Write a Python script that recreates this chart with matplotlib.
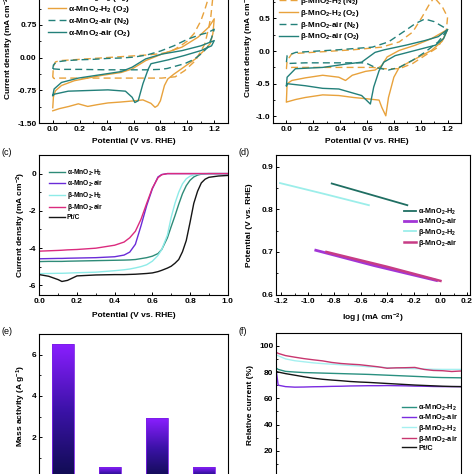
import numpy as np
import matplotlib
matplotlib.use('Agg')
import matplotlib.pyplot as plt
from matplotlib.ticker import MultipleLocator, FormatStrFormatter
from matplotlib.colors import LinearSegmentedColormap

plt.rcParams.update({
    'font.family': 'Liberation Sans',
    'font.weight': 'bold',
    'font.size': 6,
    'axes.labelweight': 'bold',
    'axes.unicode_minus': False,
    'mathtext.fontset': 'custom',
    'mathtext.rm': 'Liberation Sans:bold',
    'mathtext.it': 'Liberation Sans:bold',
    'mathtext.bf': 'Liberation Sans:bold',
    'mathtext.default': 'rm',
    'axes.linewidth': 0.8,
    'xtick.direction': 'in', 'ytick.direction': 'in',
    'xtick.major.size': 2.5, 'ytick.major.size': 2.5,
    'xtick.minor.size': 1.4, 'ytick.minor.size': 1.4,
    'xtick.major.width': 0.7, 'ytick.major.width': 0.7,
    'xtick.minor.width': 0.6, 'ytick.minor.width': 0.6,
    'xtick.major.pad': 2.5, 'ytick.major.pad': 2.0,
})

# ---------------- data ----------------
ORANGE = '#E8A23C'
TEAL = '#23807A'

# (a) CV alpha-MnO2
a_H2_N2_V = [0.0, 0.005, 0.02, 0.05, 0.1, 0.2, 0.3, 0.4, 0.5, 0.6, 0.7, 0.8, 0.85, 0.9, 0.95, 1.0, 1.05, 1.1, 1.13, 1.16, 1.2,
             1.19, 1.175, 1.16, 1.13, 1.06, 0.98, 0.91, 0.81, 0.6, 0.4, 0.2, 0.05, 0.01, 0.0]
a_H2_N2_j = [-0.45, -0.2, -0.1, -0.07, -0.06, -0.04, -0.02, 0.0, 0.02, 0.04, 0.06, 0.09, 0.12, 0.18, 0.27, 0.38, 0.55, 0.84, 1.1, 1.4, 2.1,
             1.4, 0.95, 0.7, 0.31, -0.07, -0.3, -0.44, -0.47, -0.47, -0.47, -0.47, -0.47, -0.48, -0.45]
a_H2_O2_V = [0.0, 0.005, 0.02, 0.065, 0.16, 0.36, 0.51, 0.59, 0.69, 0.81, 0.96, 1.08, 1.16, 1.2,
             1.19, 1.17, 1.13, 1.06, 0.96, 0.9, 0.855, 0.83, 0.8, 0.78, 0.76, 0.73, 0.67, 0.61, 0.5, 0.41, 0.33, 0.26, 0.19, 0.12, 0.05, 0.0]
a_H2_O2_j = [-1.15, -0.9, -0.76, -0.64, -0.53, -0.41, -0.34, -0.26, -0.07, 0.08, 0.24, 0.47, 0.7, 0.89,
             0.55, 0.32, 0.18, -0.03, -0.25, -0.38, -0.49, -0.64, -0.99, -1.1, -1.14, -1.05, -0.97, -0.99, -1.02, -1.04, -1.08, -1.12, -1.06, -1.12, -1.17, -1.22]
a_air_N2_V = [0.0, 0.005, 0.02, 0.05, 0.1, 0.2, 0.3, 0.4, 0.5, 0.6, 0.7, 0.8, 0.9, 1.0, 1.1, 1.15, 1.2,
              1.18, 1.15, 1.1, 1.05, 0.98, 0.92, 0.85, 0.8, 0.7, 0.6, 0.4, 0.2, 0.05, 0.01, 0.0]
a_air_N2_j = [-0.26, -0.17, -0.12, -0.09, -0.07, -0.05, -0.04, -0.02, -0.01, 0.01, 0.06, 0.15, 0.27, 0.42, 0.53, 0.57, 0.65,
              0.45, 0.23, 0.08, -0.04, -0.14, -0.19, -0.25, -0.27, -0.28, -0.28, -0.28, -0.27, -0.27, -0.26, -0.26]
a_air_O2_V = [0.0, 0.01, 0.065, 0.19, 0.36, 0.51, 0.59, 0.69, 0.81, 0.96, 1.1, 1.2,
              1.18, 1.1, 0.98, 0.86, 0.73, 0.71, 0.67, 0.635, 0.61, 0.59, 0.54, 0.41, 0.115, 0.01, 0.0]
a_air_O2_j = [-0.87, -0.72, -0.57, -0.47, -0.39, -0.32, -0.22, -0.03, 0.08, 0.16, 0.27, 0.39,
              0.27, 0.16, 0.05, -0.05, -0.14, -0.26, -0.6, -0.99, -1.03, -0.91, -0.77, -0.74, -0.77, -0.84, -0.87]

# (b) CV beta-MnO2
b_H2_N2_V = [0.0, 0.005, 0.04, 0.27, 0.5, 0.71, 0.84, 0.94, 1.01, 1.06, 1.1, 1.16, 1.2,
             1.19, 1.13, 1.03, 0.94, 0.84, 0.73, 0.64, 0.5, 0.27, 0.04, 0.0]
b_H2_N2_j = [-0.27, -0.15, -0.04, -0.01, 0.02, 0.06, 0.14, 0.29, 0.52, 0.7, 0.82, 0.68, 0.52,
             0.3, 0.06, -0.07, -0.19, -0.27, -0.27, -0.25, -0.25, -0.25, -0.25, -0.27]
b_H2_O2_V = [0.0, 0.005, 0.04, 0.14, 0.27, 0.39, 0.44, 0.49, 0.59, 0.66, 0.71, 0.75, 0.84, 0.96, 1.08, 1.2,
             1.16, 1.08, 0.96, 0.84, 0.8, 0.76, 0.74, 0.71, 0.69, 0.6, 0.5, 0.39, 0.27, 0.14, 0.07, 0.0]
b_H2_O2_j = [-0.76, -0.5, -0.45, -0.41, -0.37, -0.4, -0.45, -0.37, -0.31, -0.29, -0.22, -0.09, 0.01, 0.09, 0.19, 0.33,
             0.15, 0.01, -0.12, -0.25, -0.4, -0.71, -0.99, -0.86, -0.75, -0.73, -0.71, -0.68, -0.67, -0.71, -0.74, -0.78]
b_air_N2_V = [0.0, 0.005, 0.07, 0.39, 0.64, 0.76, 0.89, 0.96, 1.03, 1.1, 1.2,
              1.13, 1.03, 0.94, 0.84, 0.76, 0.66, 0.59, 0.39, 0.14, 0.01, 0.0]
b_air_N2_j = [-0.17, -0.07, -0.02, 0.02, 0.06, 0.14, 0.32, 0.42, 0.49, 0.45, 0.33,
              0.14, -0.02, -0.14, -0.25, -0.29, -0.25, -0.18, -0.18, -0.18, -0.19, -0.17]
b_air_O2_V = [0.0, 0.005, 0.067, 0.27, 0.44, 0.56, 0.66, 0.73, 0.89, 1.03, 1.13, 1.2,
              1.17, 1.11, 0.96, 0.81, 0.725, 0.69, 0.65, 0.625, 0.6, 0.56, 0.39, 0.27, 0.14, 0.01, 0.0]
b_air_O2_j = [-0.53, -0.4, -0.27, -0.25, -0.2, -0.17, -0.02, 0.02, 0.09, 0.16, 0.22, 0.33,
              0.19, 0.09, 0.01, -0.07, -0.17, -0.3, -0.55, -0.81, -0.76, -0.68, -0.58, -0.57, -0.53, -0.5, -0.53]

# (c) LSV
c_V = [0.0, 0.05, 0.1, 0.12, 0.15, 0.2, 0.3, 0.4, 0.45, 0.48, 0.51, 0.54, 0.57, 0.6, 0.63, 0.65, 0.68, 0.7,
       0.72, 0.74, 0.76, 0.78, 0.8, 0.82, 0.84, 0.86, 0.88, 0.9, 0.95, 1.0]
c_aH2 = [-4.73, -4.72, -4.72, -4.72, -4.71, -4.7, -4.68, -4.66, -4.65, -4.64, -4.62, -4.57, -4.52, -4.44, -4.3, -4.08, -3.45, -2.85,
         -2.27, -1.65, -1.08, -0.65, -0.36, -0.18, -0.08, -0.03, -0.01, 0.0, 0.0, 0.0]
c_aAir = [-4.58, -4.57, -4.56, -4.56, -4.55, -4.54, -4.52, -4.47, -4.38, -4.22, -3.8, -2.8, -1.72, -0.82, -0.18, -0.05, 0.0, 0.0,
          0.0, 0.0, 0.0, 0.0, 0.0, 0.0, 0.0, 0.0, 0.0, 0.0, 0.0, 0.0]
c_bH2 = [-5.38, -5.37, -5.36, -5.36, -5.35, -5.33, -5.3, -5.22, -5.17, -5.13, -5.07, -5.0, -4.9, -4.71, -4.4, -4.08, -3.3, -2.35,
         -1.6, -1.0, -0.55, -0.28, -0.14, -0.07, -0.03, -0.01, 0.0, 0.0, 0.0, 0.0]
c_bAir = [-4.17, -4.15, -4.13, -4.12, -4.1, -4.08, -4.01, -3.85, -3.68, -3.45, -3.1, -2.45, -1.6, -0.78, -0.22, -0.06, 0.0, 0.0,
          0.0, 0.0, 0.0, 0.0, 0.0, 0.0, 0.0, 0.0, 0.0, 0.0, 0.0, 0.0]
c_PtC = [-5.43, -5.52, -5.7, -5.8, -5.74, -5.5, -5.45, -5.43, -5.43, -5.42, -5.41, -5.39, -5.37, -5.34, -5.27, -5.2, -5.08, -4.98,
         -4.82, -4.62, -4.2, -3.6, -2.63, -1.6, -0.95, -0.5, -0.3, -0.2, -0.13, -0.1]

# (d) Tafel
d_aH2_x = [-0.82, -0.54, -0.25]
d_aH2_y = [0.861, 0.836, 0.81]
d_bH2_x = [-1.21, -0.87, -0.54]
d_bH2_y = [0.862, 0.836, 0.81]
d_aAir_x = [-0.94, -0.5, -0.03]
d_aAir_y = [0.704, 0.668, 0.633]
d_bAir_x = [-0.86, -0.4, 0.0]
d_bAir_y = [0.70, 0.665, 0.632]

# (e) mass activity
e_cats = ['α-MnO$_2$-H$_2$', 'α-MnO$_2$-air', 'β-MnO$_2$-H$_2$', 'β-MnO$_2$-air']
e_vals = [6.5, 0.55, 2.95, 0.55]

# (f) stability
f_t = [0, 0.1, 0.5, 1.0, 1.5, 2.0, 2.5, 3.0, 3.5, 4.0, 4.5, 5.0, 5.5, 6.0, 6.5, 7.0, 7.5, 8.0, 8.5, 9.0, 9.5, 10.0]
f_aH2 = [83.0, 82.0, 80.5, 80.0, 79.6, 79.4, 79.2, 79.0, 78.8, 78.6, 78.4, 78.2, 77.9, 77.6, 77.3, 77.0, 76.7, 76.4, 76.0, 75.8, 75.7, 75.6]
f_aAir = [81.0, 70.0, 68.9, 68.5, 68.6, 68.8, 68.9, 69.1, 69.2, 69.4, 69.5, 69.6, 69.6, 69.7, 69.6, 69.5, 69.3, 69.2, 69.0, 68.9, 68.9, 68.9]
f_bH2 = [93.0, 92.4, 90.0, 88.6, 87.8, 87.0, 86.4, 86.0, 85.5, 85.0, 84.6, 84.0, 83.8, 83.3, 83.0, 82.8, 82.6, 82.3, 82.1, 82.0, 82.0, 82.0]
f_bAir = [95.0, 94.2, 92.5, 91.3, 90.2, 89.3, 88.5, 87.3, 86.5, 86.0, 85.6, 84.8, 84.0, 82.9, 83.2, 83.3, 83.5, 82.0, 81.2, 81.0, 80.4, 80.8]
f_PtC = [80.5, 80.0, 78.8, 77.6, 76.4, 75.3, 74.5, 73.9, 73.4, 72.8, 72.4, 72.1, 71.7, 71.3, 70.9, 70.5, 70.1, 69.8, 69.5, 69.2, 69.0, 68.9]

# ---------------- figure ----------------
W = H = 474.0
fig = plt.figure(figsize=(4.74, 4.74), dpi=100)

def add_ax(x0, y0, x1, y1):
    return fig.add_axes([x0 / W, 1 - y1 / H, (x1 - x0) / W, (y1 - y0) / H])

def leg(ax, x, y, spacing, hl, fs):
    h, l = ax.get_legend_handles_labels()
    return ax.legend(h, l, loc='upper left', bbox_to_anchor=(x / W, 1 - y / H),
                     bbox_transform=fig.transFigure, frameon=False, borderpad=0,
                     borderaxespad=0, handlelength=hl, handletextpad=0.25,
                     labelspacing=spacing, fontsize=fs)

DASH = (0, (5, 3))
lw = 1.0

# (a)
ax = add_ax(39.3, 123 - 3.5 * 43.6, 227.7, 123)
ax.plot(a_H2_N2_V, a_H2_N2_j, color=ORANGE, ls=DASH, lw=lw, label='α-MnO$_2$-H$_2$ (N$_2$)')
ax.plot(a_H2_O2_V, a_H2_O2_j, color=ORANGE, lw=lw, label='α-MnO$_2$-H$_2$ (O$_2$)')
ax.plot(a_air_N2_V, a_air_N2_j, color=TEAL, ls=DASH, lw=lw, label='α-MnO$_2$-air (N$_2$)')
ax.plot(a_air_O2_V, a_air_O2_j, color=TEAL, lw=lw, label='α-MnO$_2$-air (O$_2$)')
ax.set_xlim(-0.1, 1.3)
ax.set_ylim(-1.5, 2.0)
ax.xaxis.set_major_locator(MultipleLocator(0.2))
ax.xaxis.set_minor_locator(MultipleLocator(0.1))
ax.xaxis.set_major_formatter(FormatStrFormatter('%.1f'))
ax.yaxis.set_major_locator(MultipleLocator(0.75))
ax.yaxis.set_minor_locator(MultipleLocator(0.375))
ax.yaxis.set_major_formatter(FormatStrFormatter('%.2f'))
ax.set_xlabel('Potential (V vs. RHE)', labelpad=3)
ax.set_ylabel('Current density (mA cm$^{-2}$)', labelpad=1)
leg(ax, 48, -7.4, 0.08, 2.2, 6)

# (b)
ax = add_ax(273, 123 - 2.4 * 65.4, 461, 123)
ax.plot(b_H2_N2_V, b_H2_N2_j, color=ORANGE, ls=DASH, lw=lw, label='β-MnO$_2$-H$_2$ (N$_2$)')
ax.plot(b_H2_O2_V, b_H2_O2_j, color=ORANGE, lw=lw, label='β-MnO$_2$-H$_2$ (O$_2$)')
ax.plot(b_air_N2_V, b_air_N2_j, color=TEAL, ls=DASH, lw=lw, label='β-MnO$_2$-air (N$_2$)')
ax.plot(b_air_O2_V, b_air_O2_j, color=TEAL, lw=lw, label='β-MnO$_2$-air (O$_2$)')
ax.set_xlim(-0.1, 1.3)
ax.set_ylim(-1.1, 1.3)
ax.xaxis.set_major_locator(MultipleLocator(0.2))
ax.xaxis.set_minor_locator(MultipleLocator(0.1))
ax.xaxis.set_major_formatter(FormatStrFormatter('%.1f'))
ax.yaxis.set_major_locator(MultipleLocator(0.5))
ax.yaxis.set_minor_locator(MultipleLocator(0.25))
ax.yaxis.set_major_formatter(FormatStrFormatter('%.1f'))
ax.set_xlabel('Potential (V vs. RHE)', labelpad=3)
ax.set_ylabel('Current density (mA cm$^{-2}$)', labelpad=-0.3)
leg(ax, 279, -4.4, 0.12, 2.4, 5.8)

# (c)
ax = add_ax(39.3, 155, 227.7, 294.5)
ax.plot(c_V, c_aH2, color='#2E8B78', lw=lw, label='α-MnO$_2$-H$_2$')
ax.plot(c_V, c_aAir, color='#6A2BD8', lw=lw, label='α-MnO$_2$-air')
ax.plot(c_V, c_bH2, color='#8EEBE8', lw=lw, label='β-MnO$_2$-H$_2$')
ax.plot(c_V, c_bAir, color='#DB2B7E', lw=lw, label='β-MnO$_2$-air')
ax.plot(c_V, c_PtC, color='#151515', lw=lw, label='Pt/C')
ax.set_xlim(0, 1.0)
ax.set_ylim(-6.5, 1.0)
ax.xaxis.set_major_locator(MultipleLocator(0.2))
ax.xaxis.set_minor_locator(MultipleLocator(0.1))
ax.xaxis.set_major_formatter(FormatStrFormatter('%.1f'))
ax.yaxis.set_major_locator(MultipleLocator(2))
ax.yaxis.set_minor_locator(MultipleLocator(1))
ax.set_xlabel('Potential (V vs. RHE)', labelpad=5)
ax.set_ylabel('Current density (mA cm$^{-2}$)', labelpad=1)
leg(ax, 48.5, 167.5, 0.16, 2.5, 4.8)

# (d)
ax = add_ax(276.3, 155, 470.3, 294.5)
ax.plot(d_aH2_x, d_aH2_y, color='#1F6E62', lw=1.3, label='α-MnO$_2$-H$_2$')
ax.plot(d_aAir_x, d_aAir_y, color='#A236D6', lw=2.0, label='α-MnO$_2$-air')
ax.plot(d_bH2_x, d_bH2_y, color='#9CEEEA', lw=1.3, label='β-MnO$_2$-H$_2$')
ax.plot(d_bAir_x, d_bAir_y, color='#C73C85', lw=1.8, label='β-MnO$_2$-air')
ax.set_xlim(-1.238, 0.225)
ax.set_ylim(0.6, 0.928)
ax.xaxis.set_major_locator(MultipleLocator(0.2))
ax.xaxis.set_minor_locator(MultipleLocator(0.1))
ax.xaxis.set_major_formatter(FormatStrFormatter('%.1f'))
ax.yaxis.set_major_locator(MultipleLocator(0.1))
ax.yaxis.set_minor_locator(MultipleLocator(0.05))
ax.yaxis.set_major_formatter(FormatStrFormatter('%.1f'))
ax.set_xlabel('log j (mA cm$^{-2}$)', labelpad=5)
ax.set_ylabel('Potential (V vs. RHE)', labelpad=6.5)
leg(ax, 403.5, 206.5, 0.0, 1.7, 5.2)

# (e)
ax = add_ax(39.3, 334, 227.7, 478.6)
cmap = LinearSegmentedColormap.from_list('bar', ['#0E0C4E', '#3A12A6', '#8A1EFF'])
xs = np.arange(1, len(e_vals) + 1)
bw = 0.46
grad = np.linspace(0, 1, 256).reshape(-1, 1)
for xi, v in zip(xs, e_vals):
    ax.imshow(grad, extent=[xi - bw / 2, xi + bw / 2, 0, v], origin='lower',
              aspect='auto', cmap=cmap, zorder=2)
ax.bar(xs, e_vals, width=bw, facecolor='none', edgecolor='#7B1FE6', lw=0.6, zorder=3)
ax.set_xlim(0.5, 4.5)
ax.set_ylim(0, 7)
ax.set_xticks(xs)
ax.set_xticklabels(e_cats)
ax.yaxis.set_major_locator(MultipleLocator(2))
ax.yaxis.set_minor_locator(MultipleLocator(1))
ax.set_ylabel('Mass activity (A g$^{-1}$)', labelpad=2.5)

# (f)
ax = add_ax(276.3, 332.6, 461, 477.2)
ax.plot(f_t, f_aH2, color='#2A9080', lw=lw, label='α-MnO$_2$-H$_2$')
ax.plot(f_t, f_aAir, color='#7A2BE0', lw=lw, label='α-MnO$_2$-air')
ax.plot(f_t, f_bH2, color='#A5F0F0', lw=lw, label='β-MnO$_2$-H$_2$')
ax.plot(f_t, f_bAir, color='#C8366F', lw=lw, label='β-MnO$_2$-air')
ax.plot(f_t, f_PtC, color='#151515', lw=lw, label='Pt/C')
ax.set_xlim(0, 10)
ax.set_ylim(0, 110)
ax.yaxis.set_major_locator(MultipleLocator(20))
ax.yaxis.set_minor_locator(MultipleLocator(10))
ax.set_ylabel('Relative current (%)', labelpad=4)
leg(ax, 401.5, 402.5, 0.0, 2.0, 5.3)

# panel labels
for txt, x, y in [('(c)', 1, 152), ('(d)', 239, 152), ('(e)', 1, 332), ('(f)', 239, 332)]:
    fig.text(x / W, 1 - y / H, txt, ha='left', va='center', fontsize=6.5, fontweight='normal')

fig.savefig('out.png', dpi=100)
